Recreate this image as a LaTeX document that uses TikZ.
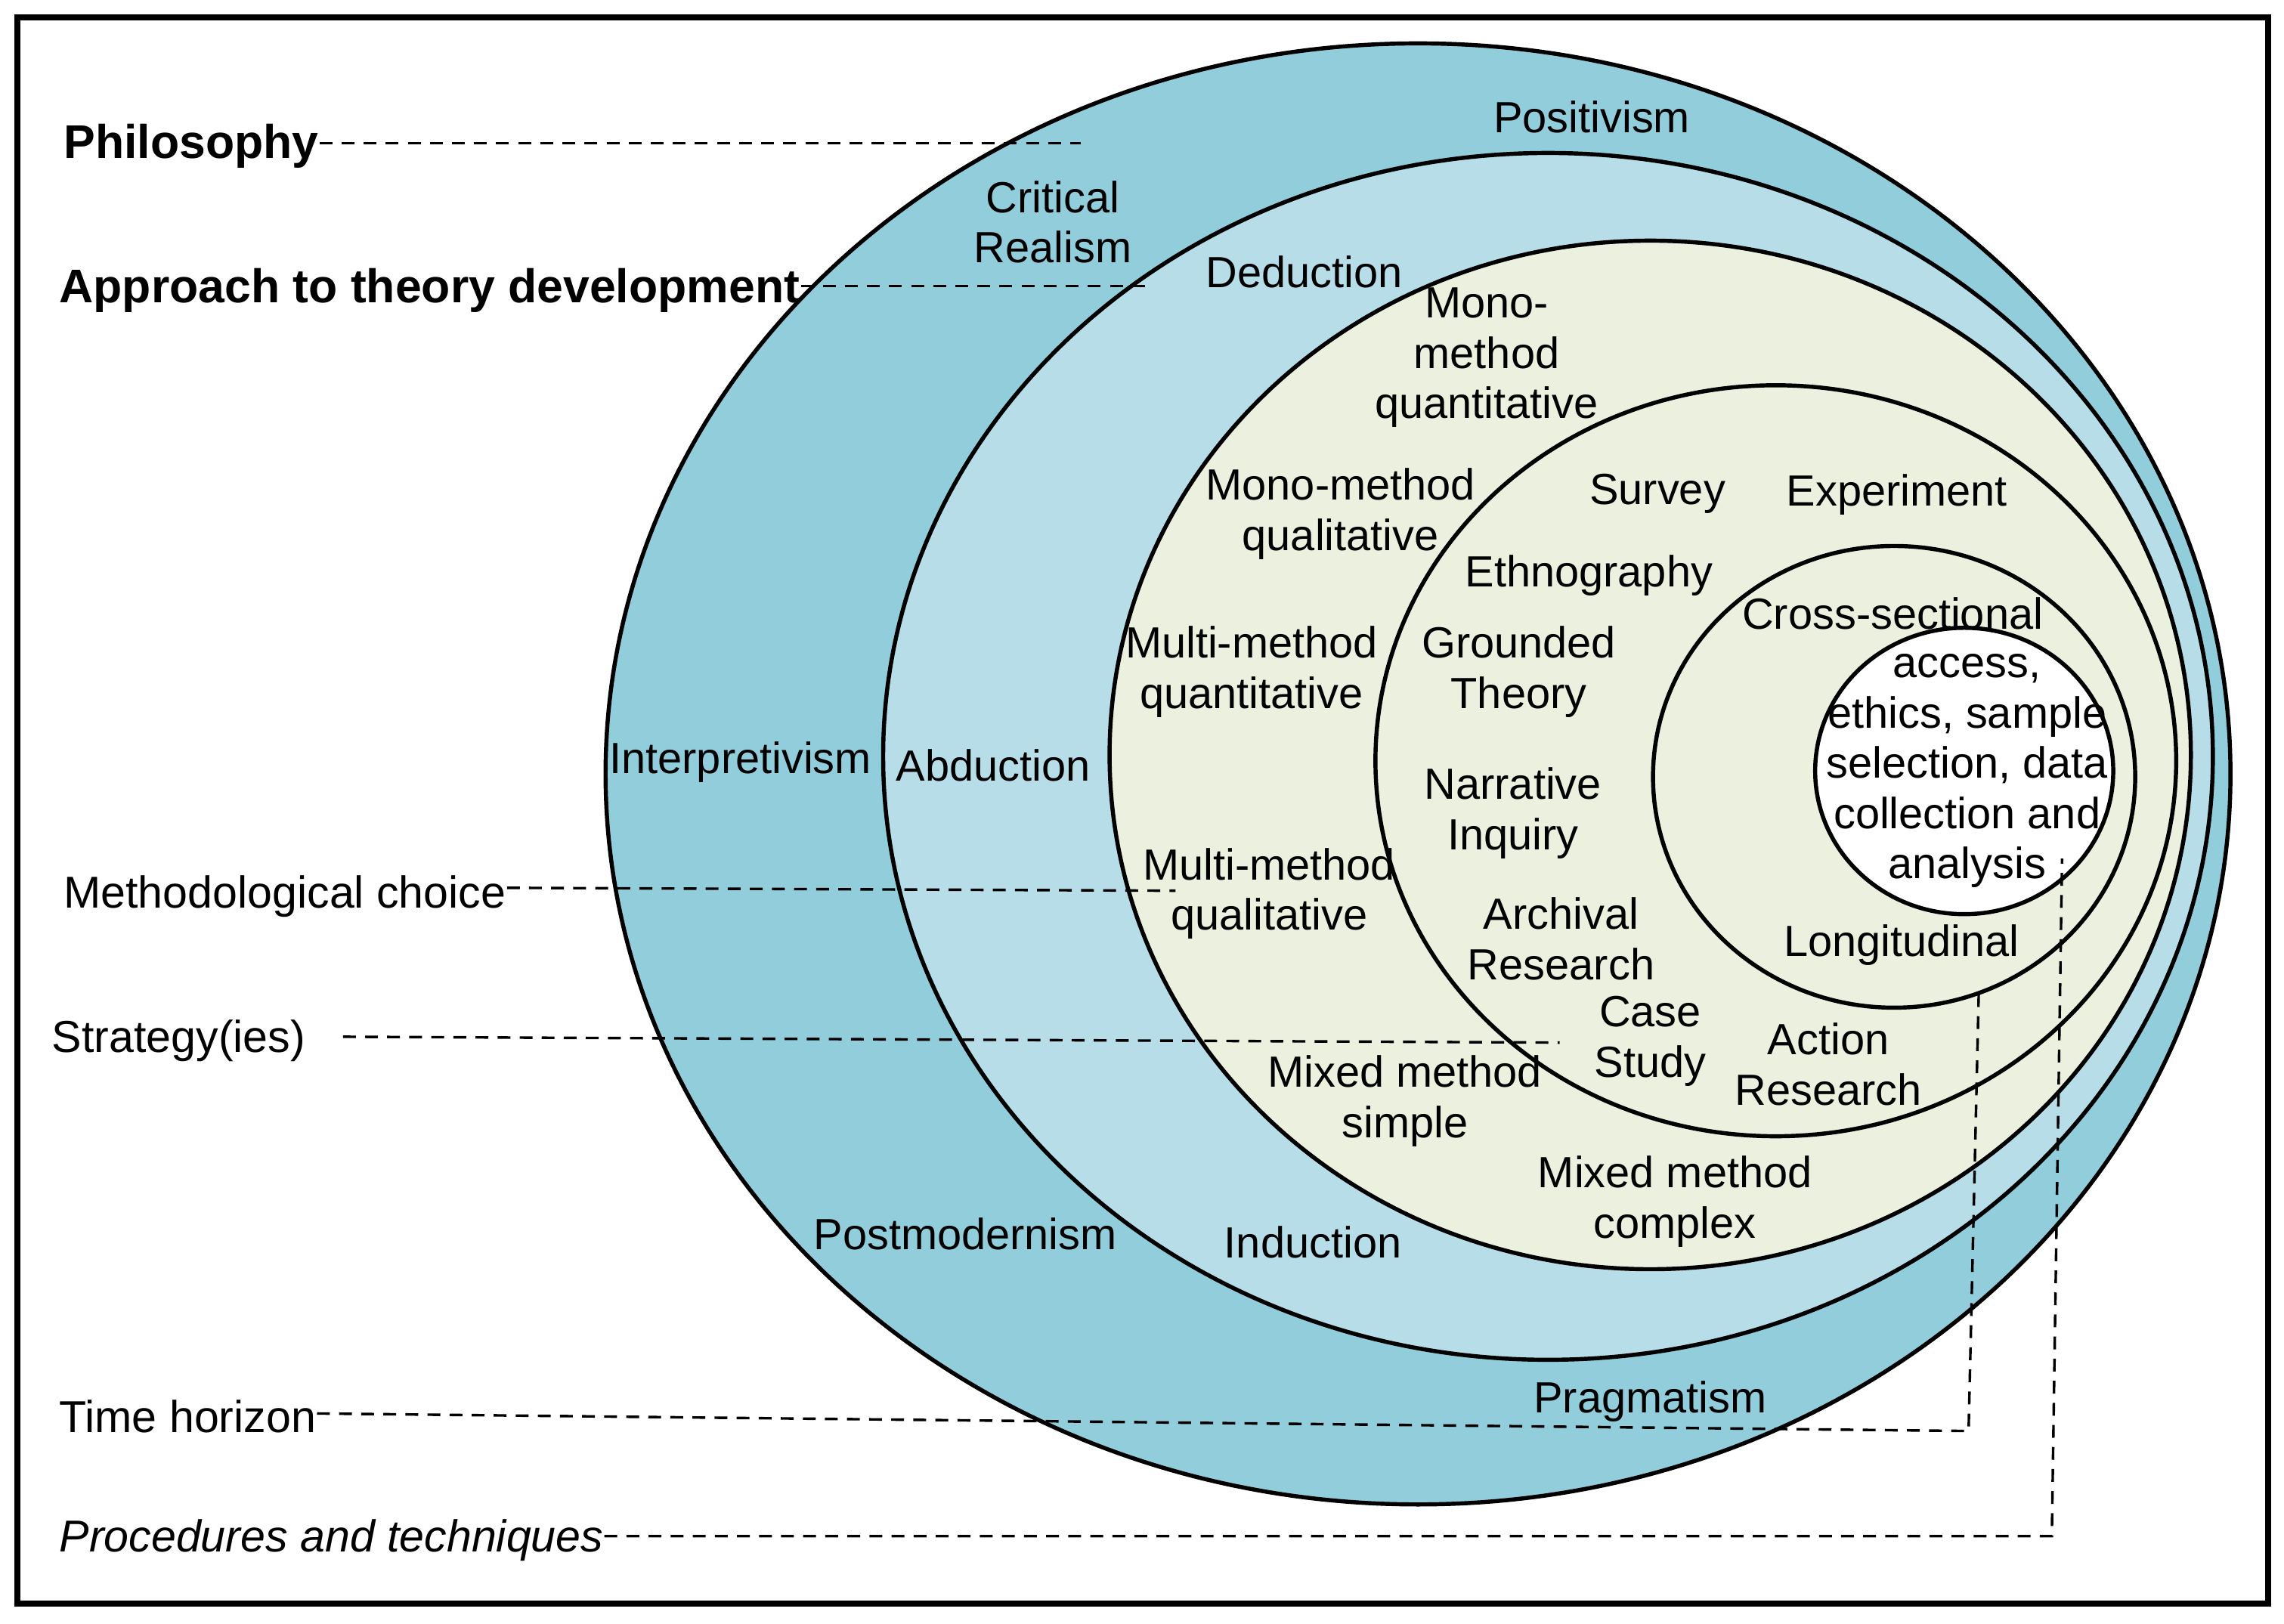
\documentclass[tikz,border=0pt]{standalone}
\usepackage{fontspec}
\setmainfont{Liberation Sans}
\begin{document}
\begin{tikzpicture}[x=0.01cm,y=-0.01cm,
  ring/.style={draw=black,line width=0.8pt},
  lab/.style={align=center,inner sep=0pt,font=\fontsize{8.5}{9.8}\selectfont},
  side/.style={anchor=west,inner sep=0pt,font=\fontsize{8.7}{10}\selectfont},
  dl/.style={dashed,line width=0.5pt,dash pattern=on 2.5pt off 1.8pt}]
\useasboundingbox (0,0) rectangle (1564,1112);
\draw[line width=1.2pt] (12,12) rectangle (1553,1098);
\fill[fill={rgb,255:red,146;green,205;blue,220}] (971,530) ellipse [x radius=5.56cm,y radius=5.0cm];
\draw[ring] (971,530) ellipse [x radius=5.56cm,y radius=5.0cm];
\filldraw[ring,fill={rgb,255:red,183;green,222;blue,232}] (1060,518) ellipse [x radius=4.55cm,y radius=4.13cm];
\filldraw[ring,fill={rgb,255:red,235;green,241;blue,222}] (1130,517) ellipse [x radius=3.70cm,y radius=3.52cm];
\filldraw[ring,fill={rgb,255:red,235;green,241;blue,222}] (1216,521) ellipse [x radius=2.74cm,y radius=2.57cm];
\filldraw[ring,fill={rgb,255:red,235;green,241;blue,222}] (1297,532) ellipse [x radius=1.65cm,y radius=1.58cm];
\filldraw[ring,fill=white] (1345,528) ellipse [x radius=1.02cm,y radius=0.98cm];

\node[lab] (pos) at (1090,80) {Positivism};
\node[lab] (cr) at (721,152) {Critical\\Realism};
\node[lab] (ded) at (893,186) {Deduction};
\node[lab] (mmq) at (1018,245) {Mono-\\method\\quantitative};
\node[lab] (mql) at (918,352) {Mono-method\\qualitative};
\node[lab] (sur) at (1135,338) {Survey};
\node[lab] (exp) at (1299,339) {Experiment};
\node[lab] (eth) at (1088,394) {Ethnography};
\node[lab] (cs) at (1296,420) {Cross-sectional};
\node[lab] (mtq) at (857,460) {Multi-method\\quantitative};
\node[lab] (gt) at (1040,460) {Grounded\\Theory};
\node[lab] (acc) at (1347,528) {access,\\ethics, sample\\selection, data\\collection and\\analysis};
\node[lab] (int) at (507,522) {Interpretivism};
\node[lab] (abd) at (680,524) {Abduction};
\node[lab] (ni) at (1036,557) {Narrative\\Inquiry};
\node[lab] (mtl) at (869,612) {Multi-method\\qualitative};
\node[lab] (ar) at (1069,643) {Archival\\Research};
\node[lab] (lon) at (1302,647) {Longitudinal};
\node[lab] (cst) at (1130,713) {Case\\Study};
\node[lab] (act) at (1252,729) {Action\\Research};
\node[lab] (mms) at (962,754) {Mixed method\\simple};
\node[lab] (mmc) at (1147,823) {Mixed method\\complex};
\node[lab] (pm) at (661,845) {Postmodernism};
\node[lab] (ind) at (899,851) {Induction};
\node[lab] (pra) at (1130,960) {Pragmatism};

\node[side,font=\fontsize{9.2}{10}\selectfont\bfseries] (phil) at (43,100) {Philosophy};
\node[side,font=\fontsize{9.2}{10}\selectfont\bfseries] (appr) at (40,199) {Approach to theory development};
\node[side] (meth) at (43,614) {Methodological choice};
\node[side] (strat) at (35,713) {Strategy(ies)};
\node[side] (time) at (40,970) {Time horizon};
\node[side,font=\fontsize{8.7}{10}\selectfont\itshape] (proc) at (40,1055) {Procedures and techniques};

\coordinate (p1) at (740,98);
\coordinate (a1) at (790,196);
\coordinate (m1) at (805,610);
\coordinate (s1) at (1068,714);
\coordinate (t1) at (1348,980);
\coordinate (t2) at (1355,678);
\coordinate (q1) at (1405,1052);
\coordinate (q2) at (1412,588);
\draw[dl] (phil.east |- 0,98) -- (p1);
\draw[dl] (appr.east |- 0,196) -- (a1);
\draw[dl] (meth.east |- 0,608) -- (m1);
\draw[dl] ([xshift=0.25cm]strat.east |- 0,710) -- (s1);
\draw[dl] (time.east |- 0,968) -- (t1) -- (t2);
\draw[dl] (proc.east |- 0,1052) -- (q1) -- (q2);
\end{tikzpicture}
\end{document}
